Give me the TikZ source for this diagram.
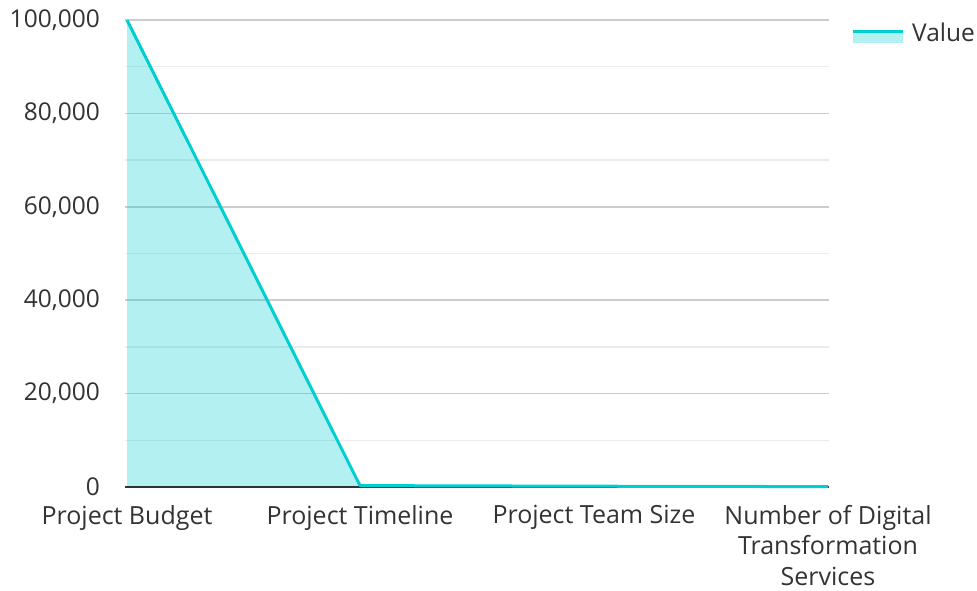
\documentclass[tikz,border=0pt]{standalone}
\usepackage{fontspec}
\setmainfont{Open Sans}
\usepackage{tikz}
\usepackage{xcolor}
\usetikzlibrary{positioning}
\tikzset{
	% Define gridline styles
	major/.style={
		gridmajor,
		line width=1.5pt
	},
	minor/.style={
		gridminor,
		line width=1.5pt
	},
	% Define label styles
	ylab/.style={
		anchor=east,
		inner sep=0,
		text=labelgray,
		font=\fontsize{24.5}{30.5}\selectfont
	},
	xlab/.style={
		anchor=north,
		inner sep=0,
		align=center,
		text=labelgray,
		font=\fontsize{25}{30.5}\selectfont
	},
	series/.style={
		turq,
		line width=3pt,
		line join=round
	}
}
\definecolor{turq}{HTML}{00CED1}
\definecolor{gridmajor}{HTML}{CCCCCC}
\definecolor{gridminor}{HTML}{EBEBEB}
\definecolor{labelgray}{HTML}{333333}

\begin{document}
\begin{tikzpicture}[x=1pt, y=-1pt]
\useasboundingbox (0,0) rectangle (977,590);

% gridlines

\foreach \i in {1,3,5,7,9} {
	\draw[minor] (125,487-46.7*\i) -- (829,487-46.7*\i);
}
\foreach \i in {2,4,6,8,10} {
	\draw[major] (125,487-46.7*\i) -- (829,487-46.7*\i);
}

% data points

\coordinate (budget) at (127,20);
\coordinate (timeline) at (360,485.6);
\coordinate (team) at (594,486.2);
\coordinate (services) at (828,486.6);
\coordinate (base0) at (127,487);
\coordinate (base1) at (828,487);

% area and axis

\fill[turq, fill opacity=0.3] (budget) -- (timeline) -- (team) -- (services) -- (base1) -- (base0) -- cycle;
\coordinate (axisL) at (125,487);
\coordinate (axisR) at (829,487);
\draw[labelgray, line width=2pt] (axisL) -- (axisR);
\draw[series] (budget) -- (timeline) -- (team) -- (services);

% y labels

\node[ylab] at (100,487) (y0) {0};
\node[ylab] at (100,393.6) (y20) {20,000};
\node[ylab] at (100,300.2) (y40) {40,000};
\node[ylab] at (100,206.8) (y60) {60,000};
\node[ylab] at (100,113.4) (y80) {80,000};
\node[ylab] at (100,20) (y100) {100,000};

% x labels

\node[xlab] at (127,505) (xbudget) {Project Budget};
\node[xlab] at (360,505) (xtimeline) {Project Timeline};
\node[xlab] at (594,505) (xteam) {Project Team Size};
\node[xlab] at (828,505) (xservices) {Number of Digital\\Transformation\\Services};

% legend

\coordinate (legL) at (853,31.5);
\coordinate (legR) at (903,31.5);
\fill[turq, fill opacity=0.3] (853,33) rectangle (903,43);
\draw[series, line cap=butt] (legL) -- (legR);
\node[ylab, anchor=west] at (912,32) (legend) {Value};

\end{tikzpicture}
\end{document}
